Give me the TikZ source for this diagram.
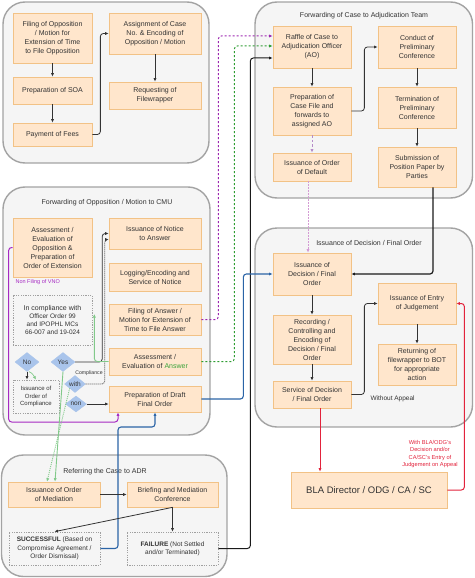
\documentclass[tikz,border=0pt]{standalone}
\usepackage{fontspec}
\setmainfont{Liberation Sans}
\usetikzlibrary{shapes.geometric,arrows.meta}
\definecolor{txt}{HTML}{333333}
\definecolor{grpfill}{HTML}{F5F5F5}
\definecolor{grpline}{HTML}{A3A3A3}
\definecolor{boxfill}{HTML}{FFE6CC}
\definecolor{boxline}{HTML}{F2C286}
\definecolor{dotline}{HTML}{A0A0A0}
\definecolor{diafill}{HTML}{A9C4EB}
\definecolor{arr}{HTML}{333333}
\definecolor{purp}{HTML}{A629C2}
\definecolor{purp2}{HTML}{9C27B0}
\definecolor{pdash}{HTML}{B58BC8}
\definecolor{pdot}{HTML}{D49BD4}
\definecolor{grn1}{HTML}{2E9D32}
\definecolor{grn2}{HTML}{82C98A}
\definecolor{ansgreen}{HTML}{3AA33A}
\definecolor{blu}{HTML}{2B64A6}
\definecolor{redc}{HTML}{E2233C}
\definecolor{blk}{HTML}{1A1A1A}
\newcommand{\mkbox}[7][box]{%
  \pgfmathsetmacro\mkbw{#5-#3}\pgfmathsetmacro\mkbh{#6-#4}%
  \node[#1, minimum width=\mkbw pt, minimum height=\mkbh pt] (#2) at ({(#3+#5)/2},{(#4+#6)/2}) {#7};}
\begin{document}
\begin{tikzpicture}[x=1pt,y=-1pt,
  grp/.style={draw=grpline, fill=grpfill, line width=1.4pt, rounded corners=22pt},
  box/.style={draw=boxline, fill=boxfill, line width=0.7pt, align=center, inner sep=1pt, text=txt, font=\fontsize{7}{9}\selectfont},
  dbox/.style={draw=dotline, fill=grpfill, line width=0.7pt, dash pattern=on 1.2pt off 1.2pt, align=center, inner sep=1pt, text=txt, font=\fontsize{6.5}{8.3}\selectfont},
  sbox/.style={dbox, font=\fontsize{6}{7.3}\selectfont},
  dia/.style={diamond, fill=diafill, draw=diafill, inner sep=0pt, text=txt, font=\fontsize{6.5}{7}\selectfont},
  gtitle/.style={text=txt, font=\fontsize{7}{8}\selectfont},
  conn/.style={draw=arr, line width=0.8pt, -{Latex[length=3.5pt,width=3.2pt]}, rounded corners=3pt},
]
\useasboundingbox (0,0) rectangle (474,578);
% groups
\draw[grp] (3,2) rectangle (209,163);
\draw[grp] (255,2) rectangle (472.5,198);
\draw[grp] (3,187) rectangle (210,435);
\draw[grp] (255,228) rectangle (472.5,427);
\draw[grp] (1.5,455) rectangle (227,576.5);
\node[gtitle] (t2) at (364,16) {Forwarding of Case to Adjudication Team};
\node[gtitle] (t3) at (107,203) {Forwarding of Opposition / Motion to CMU};
\node[gtitle] (t4) at (369,243) {Issuance of Decision / Final Order};
\node[gtitle] (t5) at (105,472) {Referring the Case to ADR};
% group 1
\mkbox{fil}{13}{13}{92}{63}{Filing of Opposition\\/ Motion for\\Extension of Time\\to File Opposition}
\mkbox{soa}{13}{77}{92}{104}{Preparation of SOA}
\mkbox{pay}{13}{123}{92}{146}{Payment of Fees}
\mkbox{asg}{109}{13}{201}{54}{Assignment of Case\\No. \& Encoding of\\Opposition / Motion}
\mkbox{req}{109}{82}{201}{109}{Requesting of\\Filewrapper}
% group 2
\mkbox{raf}{273}{26}{351}{68}{Raffle of Case to\\Adjudication Officer\\(AO)}
\mkbox{con}{378}{26}{456}{68}{Conduct of\\Preliminary\\Conference}
\mkbox{pcf}{273}{87}{351}{135}{Preparation of\\Case File and\\forwards to\\assigned AO}
\mkbox{ter}{378}{87}{456}{128}{Termination of\\Preliminary\\Conference}
\mkbox{def}{273}{153}{351}{181}{Issuance of Order\\of Default}
\mkbox{sub}{378}{147}{456}{187}{Submission of\\Position Paper by\\Parties}
% group 3
\mkbox{aeo}{13}{218}{92}{277}{Assessment /\\Evaluation of\\Opposition \&\\Preparation of\\Order of Extension}
\mkbox[dbox]{cmp}{13}{295}{92}{345}{\fontsize{7}{9}\selectfont In compliance with\\Officer Order 99\\and IPOPHL MCs\\66-007 and 19-024}
\mkbox[sbox]{ioc}{13}{380}{59}{413}{Issuance of\\Order of\\Compliance}
\mkbox{nta}{109}{218}{201}{249}{Issuance of Notice\\to Answer}
\mkbox{log}{109}{263}{201}{291}{Logging/Encoding and\\Service of Notice}
\mkbox{fan}{109}{304}{201}{335}{Filing of Answer /\\Motion for Extension of\\Time to File Answer}
\mkbox{aea}{109}{348}{201}{375}{Assessment /\\Evaluation of \textcolor{ansgreen}{Answer}}
\mkbox{pdf}{109}{386}{201}{412}{Preparation of Draft\\Final Order}
\node[dia, minimum width=24pt, minimum height=19pt] (no) at (27,362) {No};
\node[dia, minimum width=24pt, minimum height=19pt] (yes) at (63,362) {Yes};
\node[dia, minimum width=21pt, minimum height=17pt] (with) at (75,384) {with};
\node[dia, minimum width=21pt, minimum height=16pt] (non) at (76,404) {non};
\node[anchor=west, text=purp, font=\fontsize{5.5}{6}\selectfont] (nf) at (12,282) {Non Filing of VNO};
\node[text=txt, font=\fontsize{5.2}{6}\selectfont] (cl) at (89,373) {Compliance};
% group 4
\mkbox{dec}{273}{253}{351}{295}{Issuance of\\Decision / Final\\Order}
\mkbox{rec}{273}{315}{351}{364}{Recording /\\Controlling and\\Encoding of\\Decision / Final\\Order}
\mkbox{ser}{273}{381}{351}{408}{Service of Decision\\/ Final Order}
\mkbox{ent}{378}{283}{456}{324}{Issuance of Entry\\of Judgement}
\mkbox{ret}{378}{344}{456}{385}{Returning of\\filewrapper to BOT\\for appropriate\\action}
\node[anchor=west, text=txt, font=\fontsize{6.5}{7}\selectfont] (wa) at (367,399) {Without Appeal};
\mkbox[box, font=\fontsize{9.5}{11}\selectfont]{bla}{291}{472}{447}{508}{BLA Director / ODG / CA / SC}
\node[text=redc, align=center, font=\fontsize{5.7}{7.5}\selectfont] (rl) at (430,454) {With BLA/ODG's\\Decision and/or\\CA/SC's Entry of\\Judgement on Appeal};
% group 5
\mkbox{med}{8}{482}{100}{507}{Issuance of Order\\of Mediation}
\mkbox{bri}{127}{482}{218}{507}{Briefing and Mediation\\Conference}
\mkbox[dbox]{suc}{9}{532}{100}{565}{\textbf{SUCCESSFUL} (Based on\\Compromise Agreement /\\Order Dismissal)}
\mkbox[dbox]{fai}{127}{532}{218}{565}{\textbf{FAILURE} (Not Settled\\and/or Terminated)}
% connectors group 1
\draw[conn] (fil) -- (soa);
\draw[conn] (soa) -- (pay);
\draw[conn] (pay.east) -- ++(8,0) |- (asg.west);
\draw[conn] (asg) -- (req);
% group 2
\draw[conn] (raf) -- (pcf);
\draw[conn] (pcf.east) -- ++(13,0) |- (con.west);
\draw[conn] (con) -- (ter);
\draw[conn] (ter) -- (sub);
\draw[conn, draw=pdash, line width=1pt, dash pattern=on 2.5pt off 2pt] (pcf) -- (def);
\draw[conn, draw=pdot, line width=1pt, dash pattern=on 1.5pt off 1.5pt] ([xshift=-4pt]def.south) -- ([xshift=-4pt]dec.north);
\draw[conn, draw=blk, line width=1.2pt] ([xshift=16pt]sub.south) |- (dec.east);
% group 4
\draw[conn] (dec) -- (rec);
\draw[conn] (rec) -- (ser);
\draw[conn] (ser.east) -- ++(13,0) |- (ent.west);
\draw[conn] (ent) -- (ret);
\coordinate (r1) at ([xshift=8pt]ser.south);
\draw[conn, draw=redc, line width=1pt] (r1) -- (r1 |- bla.north);
\draw[conn, draw=redc, line width=1pt] (bla.east) -- ++(17,0) |- (ent.east);
% group 3
\coordinate (p2) at (118,422);
\draw[conn, draw=purp, line width=1pt] (aeo.west) -- ++(-4,0) |- (p2) -- (p2 |- pdf.south);
\draw[conn] (no.south) -- (no.south |- ioc.north);
\draw[conn, draw=grn2, line width=0.7pt] ([xshift=2pt]no.south) -- ++(3,1) -- ([xshift=0pt]ioc.north);
\draw[conn] (yes.east) -- ++(27,0) |- (nta.west);
\draw[conn, dash pattern=on 1pt off 1pt] (with.east) -- ++(19,0) |- ([yshift=-6pt]nta.west);
\draw[conn, draw=grn2, line width=0.9pt] (aea.west) -| ([xshift=2pt,yshift=6pt]cmp.east);
\draw[conn, draw=grn2, line width=0.9pt] (yes.south) -- ([xshift=1pt]med.north);
\draw[conn, draw=grn2, line width=0.9pt, dash pattern=on 1pt off 1pt] (with.south west) -- ([xshift=-7pt]med.north);
\draw[conn] (non.east) -- (non.east -| pdf.west);
\draw[conn, draw=purp2, line width=1pt, dash pattern=on 2pt off 2pt] (fan.east) -- ++(17,0) |- ([yshift=11pt]raf.west);
\draw[conn, draw=grn1, line width=1pt, dash pattern=on 2pt off 2pt] (aea.east) -- ++(33,0) |- ([yshift=1pt]raf.west);
\draw[conn, draw=blk, line width=1pt] (fai.east) -- ++(32,0) |- ([yshift=-11pt]raf.west);
\coordinate (b1) at (118,427);
\draw[conn, draw=blu, line width=1.1pt] (suc.east) -| (b1) -| (pdf.south);
\draw[conn, draw=blu, line width=1.1pt] (pdf.east) -- ++(42,0) |- (dec.west);
% group 5
\draw[conn] (med) -- (bri);
\draw[conn] (bri) -- (fai);
\draw[conn] (bri.south) -- (suc.north);
\end{tikzpicture}
\end{document}
